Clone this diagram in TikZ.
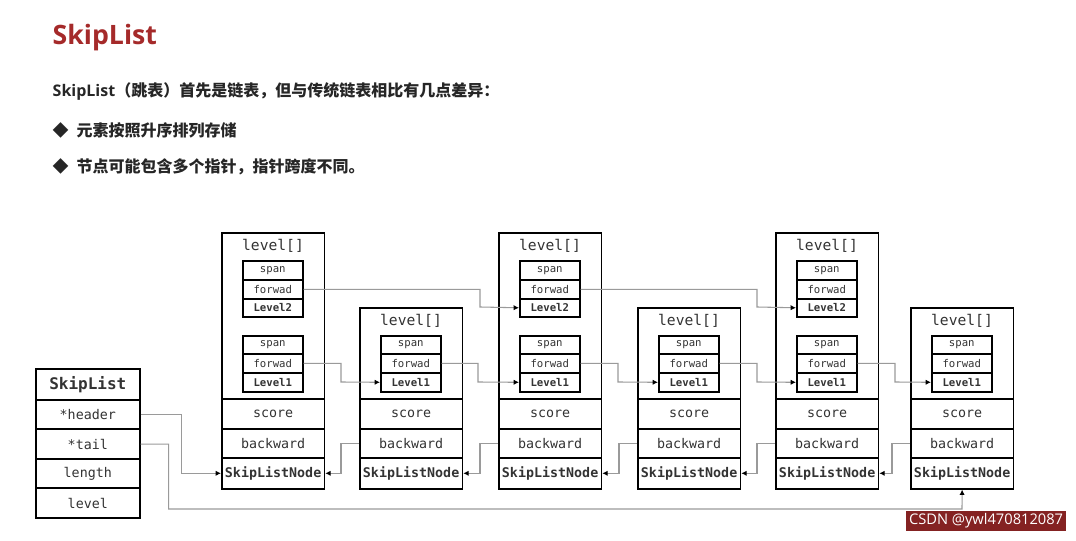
\documentclass[tikz,border=0pt]{standalone}
\usepackage{fontspec}
\setmainfont{Open Sans}
\newfontfamily\cjk{Noto Sans CJK SC}
\newfontfamily\mono{DejaVu Sans Mono}
\usetikzlibrary{arrows.meta}
\definecolor{titlered}{HTML}{A52A2A}
\definecolor{wire}{HTML}{9A9A9A}
\tikzset{
  cell/.style={draw=black,line width=1.2pt,minimum height=#1*0.75pt,inner sep=0pt,font=\mono\fontsize{10}{10}\selectfont,text=black!80},
  wirel/.style={draw=wire,line width=0.8pt},
  arr/.style={wirel,-{Latex[length=4pt,width=4pt,black]}},
}
\begin{document}
\begin{tikzpicture}[x=0.75pt,y=-0.75pt]
\useasboundingbox (0,0) rectangle (1076,541);
\fill[white] (0,0) rectangle (1076,541);
\node[anchor=west,font=\bfseries\fontsize{20}{20}\selectfont,text=titlered] (title) at (48,38) {SkipList};
\node[anchor=west,font=\fontsize{12}{12}\selectfont,text=black!85] (l1) at (48,91) {\textbf{SkipList}{\cjk\bfseries （跳表）首先是链表，但与传统链表相比有几点差异：}};
\node[anchor=west,font=\fontsize{12}{12}\selectfont,text=black!85] (l2) at (48,130) {{\cjk\bfseries ◆\hspace{6pt}元素按照升序排列存储}};
\node[anchor=west,font=\fontsize{12}{12}\selectfont,text=black!85] (l3) at (48,167) {{\cjk\bfseries ◆\hspace{6pt}节点可能包含多个指针，指针跨度不同。}};

\node[cell=31,minimum width=78pt,anchor=north west] (slA) at (35,368) {\bfseries\fontsize{12}{12}\selectfont SkipList};
\node[cell=29.5,minimum width=78pt,anchor=north west] (slh) at (35,399) {*header};
\node[cell=29.5,minimum width=78pt,anchor=north west] (slt) at (35,428.5) {*tail};
\node[cell=29.5,minimum width=78pt,anchor=north west] (sll) at (35,458) {length};
\node[cell=29.5,minimum width=78pt,anchor=north west] (slv) at (35,487.5) {level};

\foreach \i/\x/\top/\tall in {1/221/232/1, 2/359/307/0, 3/498/232/1, 4/637/307/0, 5/775/232/1, 6/910/307/0}{
  \pgfmathsetmacro{\hh}{398-\top}
  \node[cell=\hh,minimum width=77pt,anchor=north west] (n\i T) at (\x,\top) {};
  \node[anchor=north,font=\mono\fontsize{11}{11}\selectfont,text=black!80] (n\i lab) at (\x+52,\top+3) {level[]};
  \node[cell=30,minimum width=77pt,anchor=north west] (n\i S) at (\x,398) {score};
  \node[cell=29,minimum width=77pt,anchor=north west] (n\i B) at (\x,428) {backward};
  \node[cell=31,minimum width=77pt,anchor=north west] (n\i N) at (\x,457) {\bfseries SkipListNode};
  \node[cell=18,minimum width=45pt,anchor=north west,font=\mono\fontsize{8}{8}\selectfont] (n\i SPa) at (\x+21,335) {span};
  \node[cell=19,minimum width=45pt,anchor=north west,font=\mono\fontsize{8}{8}\selectfont] (n\i Fa) at (\x+21,353) {forwad};
  \node[cell=19,minimum width=45pt,anchor=north west,font=\mono\bfseries\fontsize{8}{8}\selectfont] (n\i La) at (\x+21,372) {Level1};
  \ifnum\tall=1
  \node[cell=19,minimum width=45pt,anchor=north west,font=\mono\fontsize{8}{8}\selectfont] (n\i SPb) at (\x+21,260) {span};
  \node[cell=19,minimum width=45pt,anchor=north west,font=\mono\fontsize{8}{8}\selectfont] (n\i Fb) at (\x+21,279) {forwad};
  \node[cell=18,minimum width=45pt,anchor=north west,font=\mono\bfseries\fontsize{8}{8}\selectfont] (n\i Lb) at (\x+21,298) {Level2};
  \fi
}

\coordinate (tailc) at (962,509);
\draw[arr] (slh.east) -- ++(41,0) |- (n1N.west);
\draw[arr] (slt.east) -- ++(28,0) |- (tailc) -- (n6N.south);
\draw[arr] (n1Fb.east) -| (480,307) -- (n3Lb.west);
\draw[arr] (n3Fb.east) -| (757,307) -- (n5Lb.west);
\draw[arr] (n1Fa.east) -| (341,382) -- (n2La.west);
\draw[arr] (n2Fa.east) -| (478,382) -- (n3La.west);
\draw[arr] (n3Fa.east) -| (618,382) -- (n4La.west);
\draw[arr] (n4Fa.east) -| (757,382) -- (n5La.west);
\draw[arr] (n5Fa.east) -| (895,382) -- (n6La.west);
\foreach \a/\b in {2/1,3/2,4/3,5/4,6/5}{
  \draw[arr] (n\a B.west) -- ++(-18,0) |- (n\b N.east);
}
\node[anchor=east,font=\fontsize{11}{11}\selectfont,text=white,fill=titlered!80!black,inner sep=2pt] (wm) at (1066,521) {CSDN @ywl470812087};
\end{tikzpicture}
\end{document}
